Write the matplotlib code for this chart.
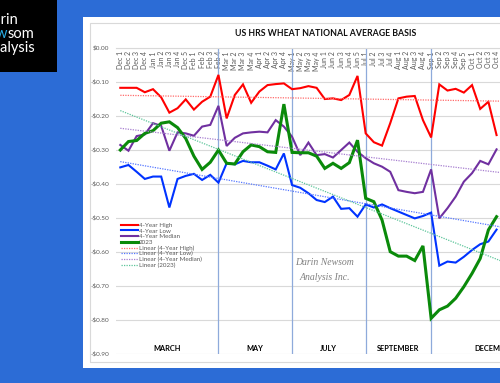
"""
US HRS wheat national average basis: weekly 4-year high / low / median vs 2023,
with linear trendlines, drawn as it sits on the blue page with the logo box.
"""
import matplotlib
matplotlib.use("Agg")
import matplotlib.pyplot as plt
import numpy as np
from matplotlib.patches import Rectangle
from matplotlib.text import Annotation
from matplotlib.ticker import FuncFormatter

plt.rcParams["font.family"] = ["Lato", "DejaVu Sans"]

W, H = 500, 383

WEEKS = ["Dec 1", "Dec 2", "Dec 3", "Dec 4", "Jan 1", "Jan 2", "Jan 3", "Jan 4", "Dec 5",
         "Feb 1", "Feb 2", "Feb 3", "Feb 4", "Mar 1", "Mar 2", "Mar 3", "Mar 4",
         "Apr 1", "Apr 2", "Apr 3", "Apr 4", "May 1", "May 2", "May 3", "May 4",
         "Jun 1", "Jun 2", "Jun 3", "Jun 4", "Jun 5", "Jul 1", "Jul 2", "Jul 3", "Jul 4",
         "Aug 1", "Aug 2", "Aug 3", "Aug 4", "Sep 1", "Sep 2", "Sep 3", "Sep 4", "Sep 5",
         "Oct 1", "Oct 2", "Oct 3", "Oct 4"]

HIGH = [-0.118, -0.118, -0.118, -0.131, -0.122, -0.146, -0.191, -0.178, -0.152, -0.182,
        -0.159, -0.144, -0.080, -0.208, -0.139, -0.108, -0.162, -0.129, -0.110, -0.107,
        -0.105, -0.122, -0.119, -0.113, -0.118, -0.151, -0.149, -0.154, -0.139, -0.083,
        -0.252, -0.278, -0.288, -0.222, -0.149, -0.144, -0.142, -0.213, -0.264, -0.108,
        -0.126, -0.121, -0.132, -0.110, -0.180, -0.159, -0.257]
LOW = [-0.352, -0.345, -0.365, -0.386, -0.379, -0.379, -0.470, -0.386, -0.377, -0.371,
       -0.389, -0.374, -0.397, -0.340, -0.343, -0.333, -0.337, -0.337, -0.347, -0.358,
       -0.311, -0.404, -0.412, -0.428, -0.448, -0.454, -0.438, -0.474, -0.472, -0.497,
       -0.461, -0.470, -0.461, -0.472, -0.482, -0.492, -0.502, -0.495, -0.485, -0.641,
       -0.629, -0.632, -0.615, -0.595, -0.578, -0.570, -0.535]
MEDIAN = [-0.286, -0.303, -0.260, -0.255, -0.222, -0.230, -0.303, -0.249, -0.252, -0.259,
          -0.232, -0.227, -0.171, -0.289, -0.265, -0.252, -0.249, -0.247, -0.249, -0.213,
          -0.232, -0.262, -0.316, -0.279, -0.316, -0.313, -0.323, -0.301, -0.279, -0.306,
          -0.325, -0.340, -0.350, -0.365, -0.419, -0.424, -0.428, -0.424, -0.358, -0.502,
          -0.472, -0.438, -0.394, -0.369, -0.333, -0.343, -0.299]
Y2023 = [-0.301, -0.276, -0.273, -0.252, -0.244, -0.222, -0.218, -0.235, -0.267, -0.319,
         -0.358, -0.337, -0.301, -0.340, -0.342, -0.306, -0.286, -0.291, -0.306, -0.308,
         -0.166, -0.308, -0.309, -0.309, -0.319, -0.355, -0.340, -0.355, -0.338, -0.272,
         -0.443, -0.453, -0.507, -0.600, -0.613, -0.613, -0.626, -0.583, -0.796, -0.771,
         -0.760, -0.737, -0.703, -0.664, -0.620, -0.536, -0.497]

SERIES = ["4-Year High", "4-Year Low", "4-Year Median", "2023"]
# Excel linear trendlines: value at week 0 and slope per week
TREND_START = [-0.140, -0.335, -0.237, -0.185]
TREND_SLOPE = [-0.00037, -0.00413, -0.0028, -0.0095]
TREND_END_WEEK = 53

CONTRACT_BREAKS = ["Feb 4", "May 1", "Jul 1", "Sep 1"]
CONTRACTS = ["MARCH", "MAY", "JULY", "SEPTEMBER", "DECEMBER"]

COLORS = ["#ff0000", "#0033ff", "#7030a0", "#0a8a0a"]
TREND_COLORS = ["#ff6b6b", "#5577ff", "#a77fd0", "#5cc59a"]
WIDTHS = [1.5, 1.5, 1.5, 2.2]

STEP = 8.18          # px per week
LEFT_PX = 116.2      # plot area left edge (week -0.5)
TOP_PX, BOT_PX = 47.7, 353.7


def fx(px):
    return px / W


def fy(py):
    return 1 - py / H


def money(v, _pos):
    return "$0.00" if abs(v) < 1e-9 else f"-${abs(v):.2f}"


def main():
    fig = plt.figure(figsize=(W / 100, H / 100), dpi=100, facecolor="#2c6cd6")

    # page furniture: white card, inner chart border, black logo box
    fig.add_artist(Rectangle((fx(83), fy(368)), 1, (368 - 17) / H, transform=fig.transFigure,
                             facecolor="white", edgecolor="none", zorder=0))
    fig.add_artist(Rectangle((fx(90), fy(362)), 1, (362 - 23) / H, transform=fig.transFigure,
                             facecolor="none", edgecolor="#d9d9d9", lw=0.8, zorder=0.5))
    fig.add_artist(Rectangle((0, fy(72)), fx(57), 72 / H, transform=fig.transFigure,
                             facecolor="black", edgecolor="none", zorder=1))

    n_weeks = TREND_END_WEEK + 1
    ax = fig.add_axes([fx(LEFT_PX), fy(BOT_PX), n_weeks * STEP / W, (BOT_PX - TOP_PX) / H])
    ax.set_facecolor("white")
    # x axis sits on the $0.00 line, labels hang below it
    ax.spines["bottom"].set_position(("data", 0))
    ax.spines["bottom"].set_color("#d9d9d9")
    for s in ("top", "right", "left"):
        ax.spines[s].set_visible(False)

    x = np.arange(len(WEEKS))
    for name, vals, c, lw in zip(SERIES, [HIGH, LOW, MEDIAN, Y2023], COLORS, WIDTHS):
        ax.plot(x, vals, color=c, lw=lw, label=name, zorder=3, solid_joinstyle="miter")
    xt = np.array([0, TREND_END_WEEK])
    for name, s, k, c in zip(SERIES, TREND_START, TREND_SLOPE, TREND_COLORS):
        ax.plot(xt, s + k * xt, color=c, lw=0.9, ls=(0, (1, 1)),
                label=f"Linear ({name})", zorder=4)

    for w in CONTRACT_BREAKS:
        ax.axvline(WEEKS.index(w), color="#8eaadb", lw=0.9, zorder=2)

    ax.set_xlim(-0.5, TREND_END_WEEK + 0.5)
    ax.set_ylim(-0.9, 0)
    ax.set_yticks(np.linspace(-0.9, 0, 10))
    ax.yaxis.set_major_formatter(FuncFormatter(money))
    ax.yaxis.grid(True, color="#d9d9d9", lw=0.8)
    ax.set_axisbelow(True)

    ax.set_xticks(x)
    ax.set_xticklabels(WEEKS)
    ax.tick_params(axis="x", length=0, pad=2.5, labelsize=5, labelcolor="#595959",
                   labelrotation=90)
    ax.tick_params(axis="y", length=0, pad=5, labelsize=4.6, labelcolor="#595959")

    # contract month names under each block
    edges = [-0.5] + [WEEKS.index(w) for w in CONTRACT_BREAKS] + [TREND_END_WEEK + 0.5]
    for name, a, b in zip(CONTRACTS, edges[:-1], edges[1:]):
        ax.text((a + b) / 2, -0.886, name, ha="center", va="center",
                fontsize=5.3, fontweight="bold", color="black")

    ax.text(25.0, -0.633, "Darin Newsom", ha="center", va="center", fontsize=7,
            family="Liberation Serif", style="italic", color="#808080")
    ax.text(25.0, -0.677, "Analysis Inc.", ha="center", va="center", fontsize=7,
            family="Liberation Serif", style="italic", color="#808080")

    ax.legend(loc="upper left", bbox_to_anchor=(fx(121), fy(222.5)),
              bbox_transform=fig.transFigure, frameon=False, fontsize=4.5,
              handlelength=2.7, handletextpad=0.2, labelspacing=0.05,
              borderpad=0, borderaxespad=0, labelcolor="#595959")

    fig.text(fx(326), fy(33), "US HRS WHEAT NATIONAL AVERAGE BASIS", ha="center",
             va="center", fontsize=6.3, fontweight="bold", color="#111111")

    # logo text, left part runs off the page
    logo = dict(fontsize=10.5, fontweight="normal", va="baseline", ha="left")
    fig.text(fx(-17), fy(24), "Darin", color="white", **logo)
    t_new = fig.text(fx(-23), fy(38.5), "Ne", color="white", **logo)
    t_w = Annotation("w", xy=(1, 0), xycoords=t_new, color="#29abe2",
                     fontsize=10.5, va="bottom", ha="left", zorder=3)
    fig.add_artist(t_w)
    fig.add_artist(Annotation("som", xy=(1, 0), xycoords=t_w, color="white",
                              fontsize=10.5, va="bottom", ha="left", zorder=3))
    fig.text(fx(-17), fy(52), "Analysis", color="white", **logo)

    fig.savefig("out.png", dpi=100, facecolor=fig.get_facecolor())
    plt.close(fig)


if __name__ == "__main__":
    main()
